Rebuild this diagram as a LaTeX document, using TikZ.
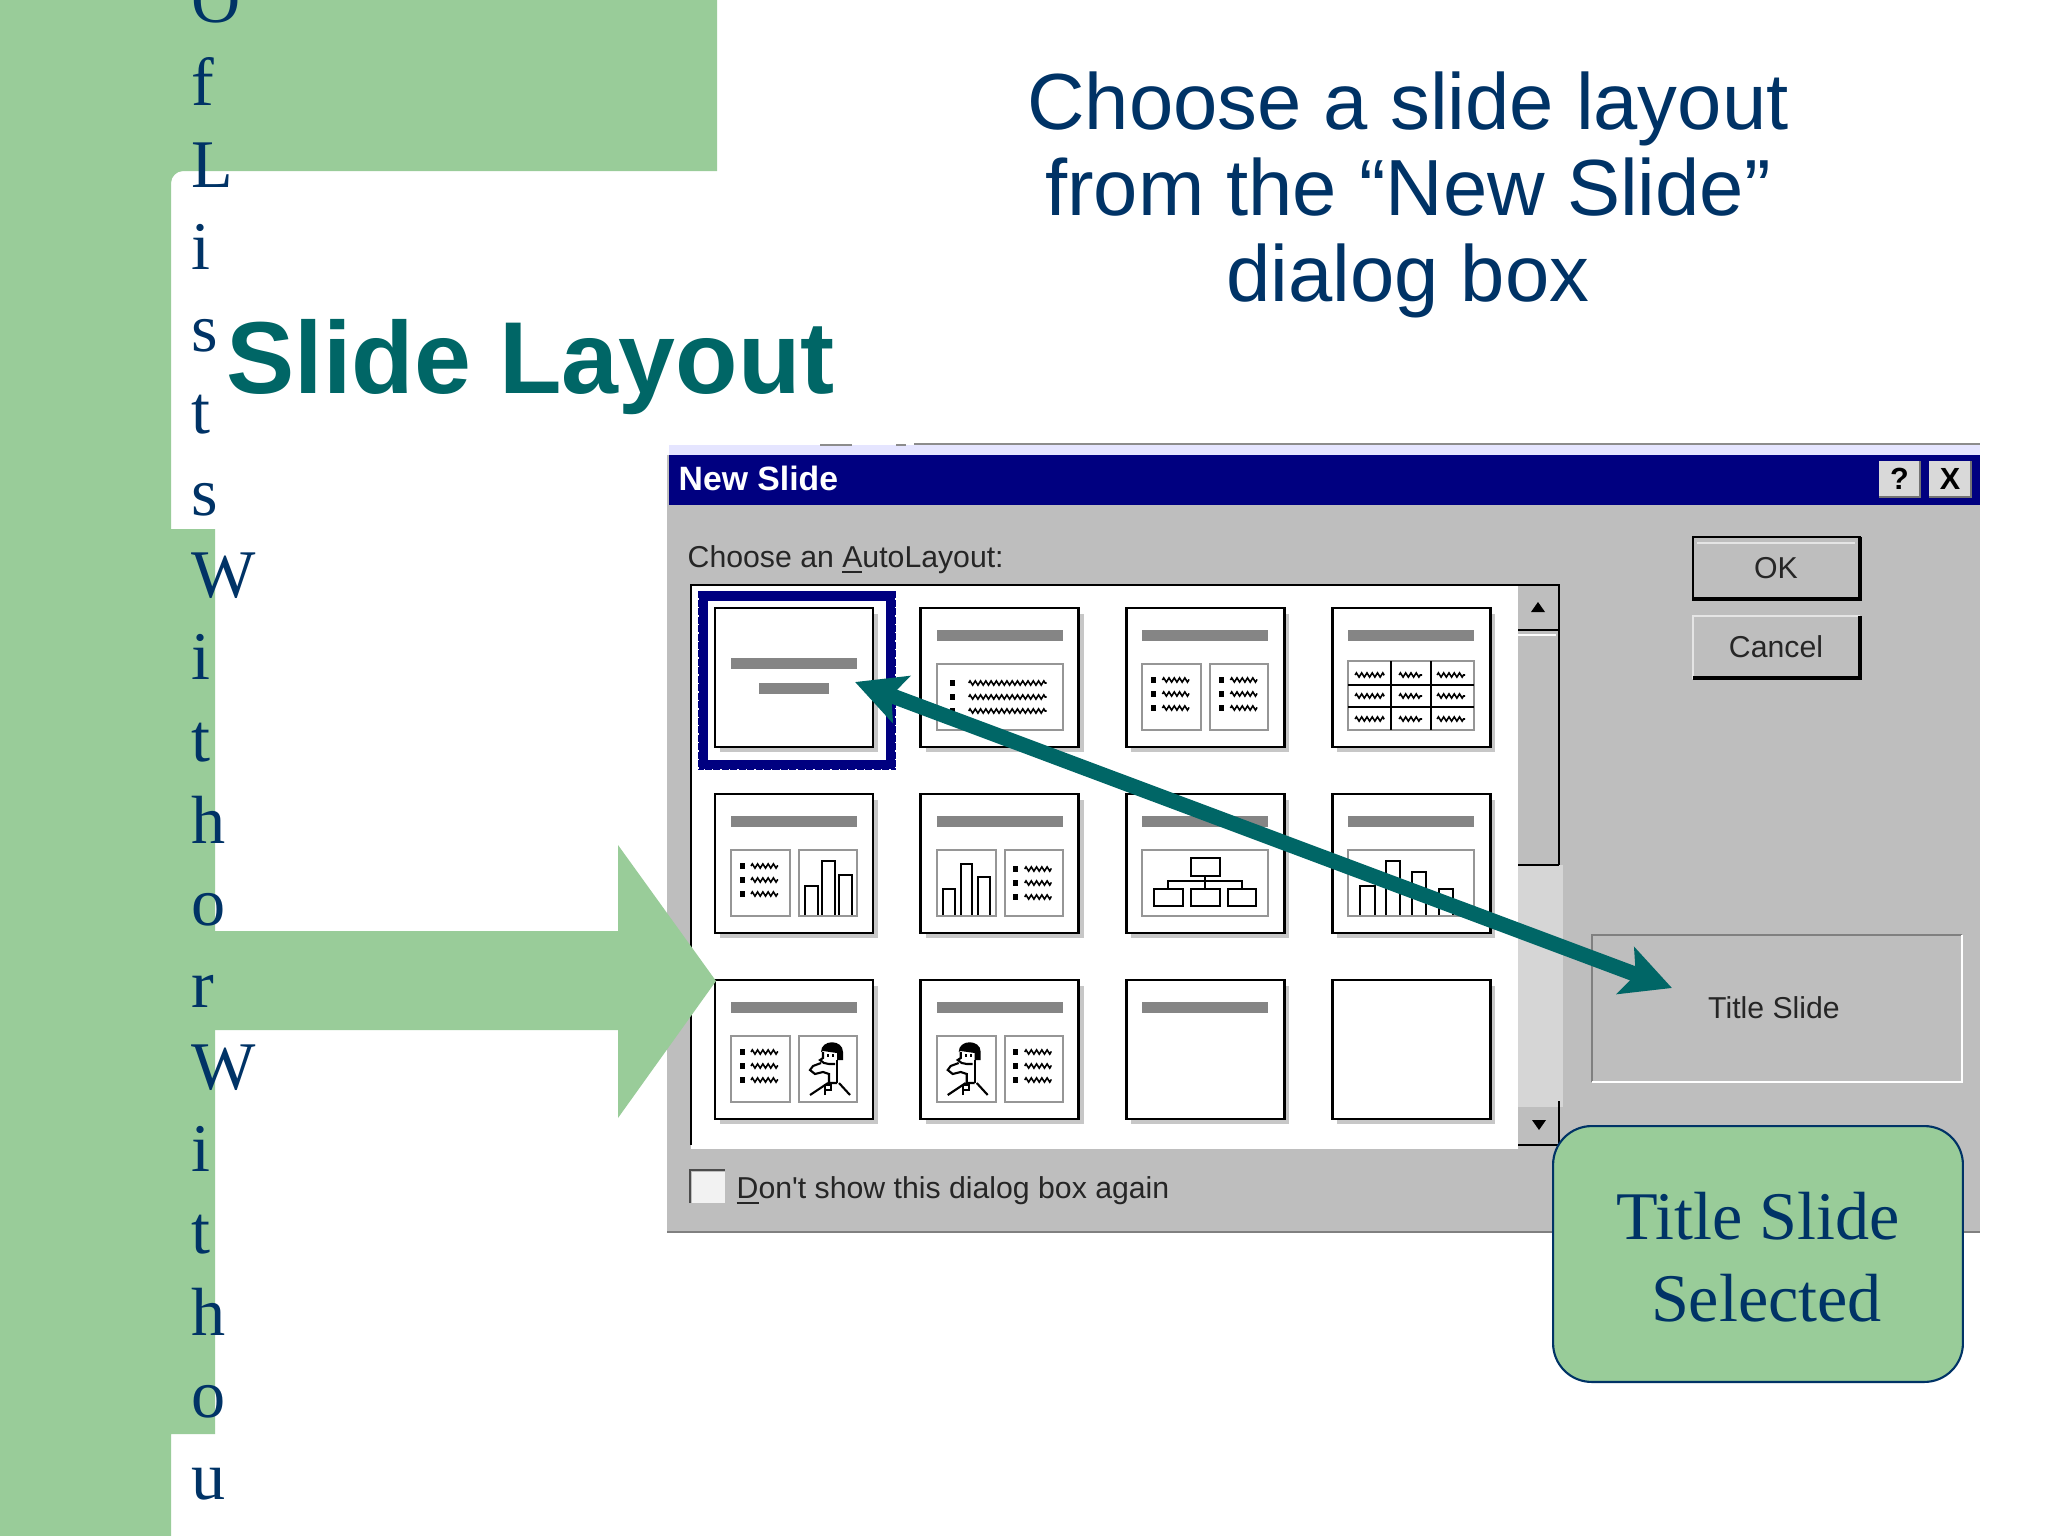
\documentclass[tikz,border=0pt]{standalone}
\usepackage{fontspec}
\setmainfont{Liberation Serif}
\setsansfont{Liberation Sans}
\newfontfamily\uifont{Liberation Sans}
\usetikzlibrary{arrows.meta,decorations.pathmorphing}
\definecolor{slidegreen}{HTML}{99CC99}
\definecolor{slideblue}{HTML}{003366}
\definecolor{slideteal}{HTML}{006666}
\definecolor{dlggray}{HTML}{BEBEBE}
\definecolor{dlgnavy}{HTML}{000080}
\definecolor{titlegray}{HTML}{858585}
\definecolor{panelgray}{HTML}{969696}
\tikzset{
  slideletter/.style={font=\fontsize{19.4}{23.3}\selectfont,text=slideblue,inner sep=0pt,anchor=base west},
  uilabel/.style={font=\uifont\fontsize{8.6}{10}\selectfont,text=black!85,inner sep=0pt},
  thumbframe/.style={draw=black,fill=white,line width=0.8pt},
  panelframe/.style={draw=panelgray,line width=0.6pt},
  wiggle/.style={line width=0.45pt,decorate,decoration={zigzag,segment length=1.5pt,amplitude=0.6pt}},
  barline/.style={draw=black,line width=0.6pt},
  darkedge/.style={draw=black,line width=0.8pt},
  lightedge/.style={draw=white!92!black,line width=0.6pt}
}
\newcommand{\atslot}[3]{\begin{scope}[shift={({715+205.7*#1},{608+186*#2})}]#3\end{scope}}
\newcommand{\bulletlist}[4]{%
  \foreach \k in {0,1,2}{%
    \fill[black] ({#1-2.5},{#2+14*\k-3}) rectangle ({#1+2.5},{#2+14*\k+3});
    \draw[wiggle] (#3,{#2+14*\k}) -- (#4,{#2+14*\k});
  }}
\newcommand{\barchart}[1]{%
  \foreach \a/\b/\t in {#1}{\draw[barline] (\a,121) -- (\a,\t) -- (\b,\t) -- (\b,121);}}
\newcommand{\personfig}{%
  \fill[black] (106,72) .. controls (106,59) and (128,59) .. (128,72) -- (128,80) -- (122,80) -- (122,73) -- (108,71) -- cycle;
  \draw[barline] (108,72) -- (108,78) -- (105,80) -- (109,83) -- (114,84) -- (120,84);
  \fill[black] (112,74) rectangle (114,77);
  \fill[black] (117,74) rectangle (119,77);
  \draw[barline] (122,80) -- (122,103);
  \draw[barline] (106,83) -- (98,86) -- (95,90) -- (100,94) -- (108,92) -- (114,94) -- (114,103) -- (122,103);
  \draw[barline] (113,103) -- (95,115);
  \draw[barline] (124,103) -- (135,115);
  \draw[barline] (110,115) -- (110,105) -- (116,105) -- (116,110) -- (110,110);}
\begin{document}
\begin{tikzpicture}[x=0.2845pt,y=-0.2845pt]
  \useasboundingbox (0,0) rectangle (2048,1536);
  \fill[white] (0,0) rectangle (2048,1536);
  \fill[slidegreen] (0,0) -- (717,0) -- (717,171) [rounded corners=3.5pt] -- (171,171) [sharp corners] -- (171,529) -- (215,529) -- (215,1434) -- (171,1434) -- (171,1536) -- (0,1536) -- cycle;

  \draw (1408,195) node[font=\sffamily\fontsize{22.65}{24.5}\selectfont,text=slideblue,align=center](heading) {Choose a slide layout\\from the “New Slide”\\dialog box};
  \draw (226,393) node[font=\sffamily\bfseries\fontsize{29.1}{34}\selectfont,text=slideteal,inner sep=0pt,anchor=base west](slidetitle) {Slide Layout};

  \fill[blue!10!white] (669,445) rectangle (1980,455);
  \draw[black!45,line width=0.5pt] (914,444) -- (1980,444);
  \draw[black!45,line width=0.5pt] (820,445) -- (852,445);
  \draw[black!45,line width=0.5pt] (896,445) -- (906,445);
  \fill[dlggray] (667,455) rectangle (1980,1232);
  \draw[black!50,line width=0.6pt] (667,1232) -- (1980,1232);
  \fill[dlgnavy] (669,455) rectangle (1980,505);
  \draw (678,490) node[font=\sffamily\bfseries\fontsize{9.6}{11}\selectfont,text=white,inner sep=0pt,anchor=base west](dlgtitle) {New Slide};
  \draw (687,567) node[uilabel,anchor=base west](chooselabel) {Choose an \underline{A}utoLayout:};

  \fill[white] (691,585) rectangle (1518,1149);
  \draw[darkedge] (691,1145) -- (691,585) -- (1559,585) -- (1559,865);
  \fill[black!16] (1518,865) rectangle (1563,1107);
  \fill[dlggray] (1518,593) rectangle (1557,865);
  \draw[darkedge] (1518,630) -- (1558,630);
  \draw[white,line width=0.6pt] (1518,635) -- (1556,635);
  \draw[darkedge] (1518,865) -- (1559,865);
  \fill[black] (1531,612) -- (1545,612) -- (1538,602) -- cycle;
  \fill[dlggray] (1523,1107) rectangle (1558,1145);
  \draw[darkedge] (1559,1101) -- (1559,1145) -- (1518,1145);
  \fill[black] (1532,1120) -- (1546,1120) -- (1539,1130) -- cycle;

  \foreach \col in {0,...,3}{
    \foreach \row in {0,1,2}{
      \atslot{\col}{\row}{
        \fill[black!22] (5,6) rectangle (163,144);
        \draw[thumbframe] (0,0) rectangle (158,139);
      }
    }
  }
  \foreach \col/\row in {1/0,2/0,3/0,0/1,1/1,2/1,3/1,0/2,1/2,2/2}{
    \atslot{\col}{\row}{\fill[titlegray] (16,22) rectangle (142,33);}
  }

  \atslot{0}{0}{
    \fill[titlegray] (16,50) rectangle (142,61);
    \fill[titlegray] (44,75) rectangle (114,86);
  }
  \atslot{1}{0}{
    \draw[panelframe] (16,56) rectangle (142,122);
    \bulletlist{32}{75}{48}{126}
  }
  \atslot{2}{0}{
    \draw[panelframe] (16,56) rectangle (75,122);
    \draw[panelframe] (84,56) rectangle (142,122);
    \bulletlist{27}{72}{36}{63}
    \bulletlist{95}{72}{104}{131}
  }
  \atslot{3}{0}{
    \draw[panelframe] (16,53) rectangle (142,122);
    \draw[barline] (59,53) -- (59,122);
    \draw[barline] (99,53) -- (99,122);
    \draw[barline] (16,77) -- (142,77);
    \draw[barline] (16,99) -- (142,99);
    \foreach \yy in {67,88,111}{
      \draw[wiggle] (23,\yy) -- (52,\yy);
      \draw[wiggle] (67,\yy) -- (90,\yy);
      \draw[wiggle] (105,\yy) -- (133,\yy);
    }
  }
  \atslot{0}{1}{
    \draw[panelframe] (16,56) rectangle (75,122);
    \draw[panelframe] (84,56) rectangle (142,122);
    \bulletlist{27}{72}{36}{63}
    \barchart{90/103/92,107/120/67,124/137/81}
  }
  \atslot{1}{1}{
    \draw[panelframe] (16,56) rectangle (75,122);
    \draw[panelframe] (84,56) rectangle (142,122);
    \barchart{22/34/95,40/51/70,57/69/83}
    \bulletlist{95}{75}{104}{131}
  }
  \atslot{2}{1}{
    \draw[panelframe] (16,56) rectangle (142,122);
    \draw[barline] (65,64) rectangle (94,82);
    \draw[barline] (28,95) rectangle (57,112);
    \draw[barline] (65,95) rectangle (94,112);
    \draw[barline] (102,95) rectangle (130,112);
    \draw[barline] (79,82) -- (79,95);
    \draw[barline] (42,95) -- (42,87) -- (116,87) -- (116,95);
  }
  \atslot{3}{1}{
    \draw[panelframe] (16,56) rectangle (142,122);
    \barchart{28/43/92,54/68/67,80/94/78,107/121/95}
  }
  \atslot{0}{2}{
    \draw[panelframe] (16,56) rectangle (75,122);
    \draw[panelframe] (84,56) rectangle (142,122);
    \bulletlist{27}{72}{36}{63}
    \personfig
  }
  \atslot{1}{2}{
    \draw[panelframe] (16,56) rectangle (75,122);
    \draw[panelframe] (84,56) rectangle (142,122);
    \bulletlist{95}{72}{104}{131}
    \begin{scope}[shift={(-68,0)}]\personfig\end{scope}
  }

  \draw[dlgnavy,line width=2.85pt] (703,596) rectangle (890.5,764.5);
  \draw[white,dotted,line width=0.4pt] (698,590) rectangle (896,770);

  \draw[lightedge] (1693,537) rectangle (1860,600);
  \draw[darkedge] (1693,537) rectangle (1860,600);
  \draw[black,line width=1.1pt] (1693,599) -- (1860,599) -- (1860,537);
  \draw[white!90!black,line width=0.7pt] (1697,543) -- (1855,543);
  \draw (1776,568) node[uilabel](okbutton) {OK};
  \draw[white!90!black,line width=0.8pt] (1693,679) -- (1693,616) -- (1860,616);
  \draw[black,line width=1pt] (1693,678) -- (1860,678) -- (1860,616);
  \draw (1776,647) node[uilabel](cancelbutton) {Cancel};

  \foreach \xa/\xb/\glyph/\tag in {1879/1920/?/help,1929/1971/X/close}{
    \fill[black!15] (\xa,461) rectangle (\xb,497);
    \draw[black!55,line width=0.6pt] (\xa,497) -- (\xb,497) -- (\xb,461);
    \draw ({(\xa+\xb)/2},479) node[font=\sffamily\bfseries\fontsize{8.7}{10}\selectfont,inner sep=0pt](\tag) {\glyph};
  }

  \draw[black!50,line width=0.5pt] (1592,1082) -- (1592,935) -- (1962,935);
  \draw[white,line width=0.6pt] (1592,1082) -- (1962,1082) -- (1962,935);
  \draw (1774,1018) node[uilabel,anchor=base](previewlabel) {Title Slide};

  \draw[black!70,line width=0.7pt] (690,1203) -- (690,1170) -- (725,1170);
  \fill[black!5] (692,1172) rectangle (725,1203);
  \draw (736,1198) node[uilabel,anchor=base west](checklabel) {\underline{D}on't show this dialog box again};

  \fill[slidegreen] (215,931) -- (618,931) -- (618,845) -- (716,981) -- (618,1118) -- (618,1030) -- (215,1030) -- cycle;

  \coordinate (selecttip) at (855,682);
  \coordinate (previewtip) at (1672,988);
  \draw[slideteal,line width=4.3pt,{Stealth[length=14pt,width=14pt,inset=3pt]}-{Stealth[length=14pt,width=14pt,inset=3pt]}] (selecttip) -- (previewtip);

  \draw (1758,1254) node[draw=slideblue,fill=slidegreen,line width=0.6pt,rounded corners=11pt,minimum width=116.6pt,minimum height=72.8pt,inner sep=0pt](selectedbox) {};
  \draw (1758,1257) node[align=center,inner sep=0pt,text=slideblue,font=\fontsize{19.4}{23.3}\selectfont](selectedlabel) {Title Slide\\\hspace*{0.25em}Selected};

  \foreach \ch [count=\i] in {O,f,L,i,s,t,s,W,i,t,h,o,r,W,i,t,h,o,u}{
    \draw (191,{23+82*(\i-1)}) node[slideletter](letter\i) {\ch};
  }
\end{tikzpicture}
\end{document}
